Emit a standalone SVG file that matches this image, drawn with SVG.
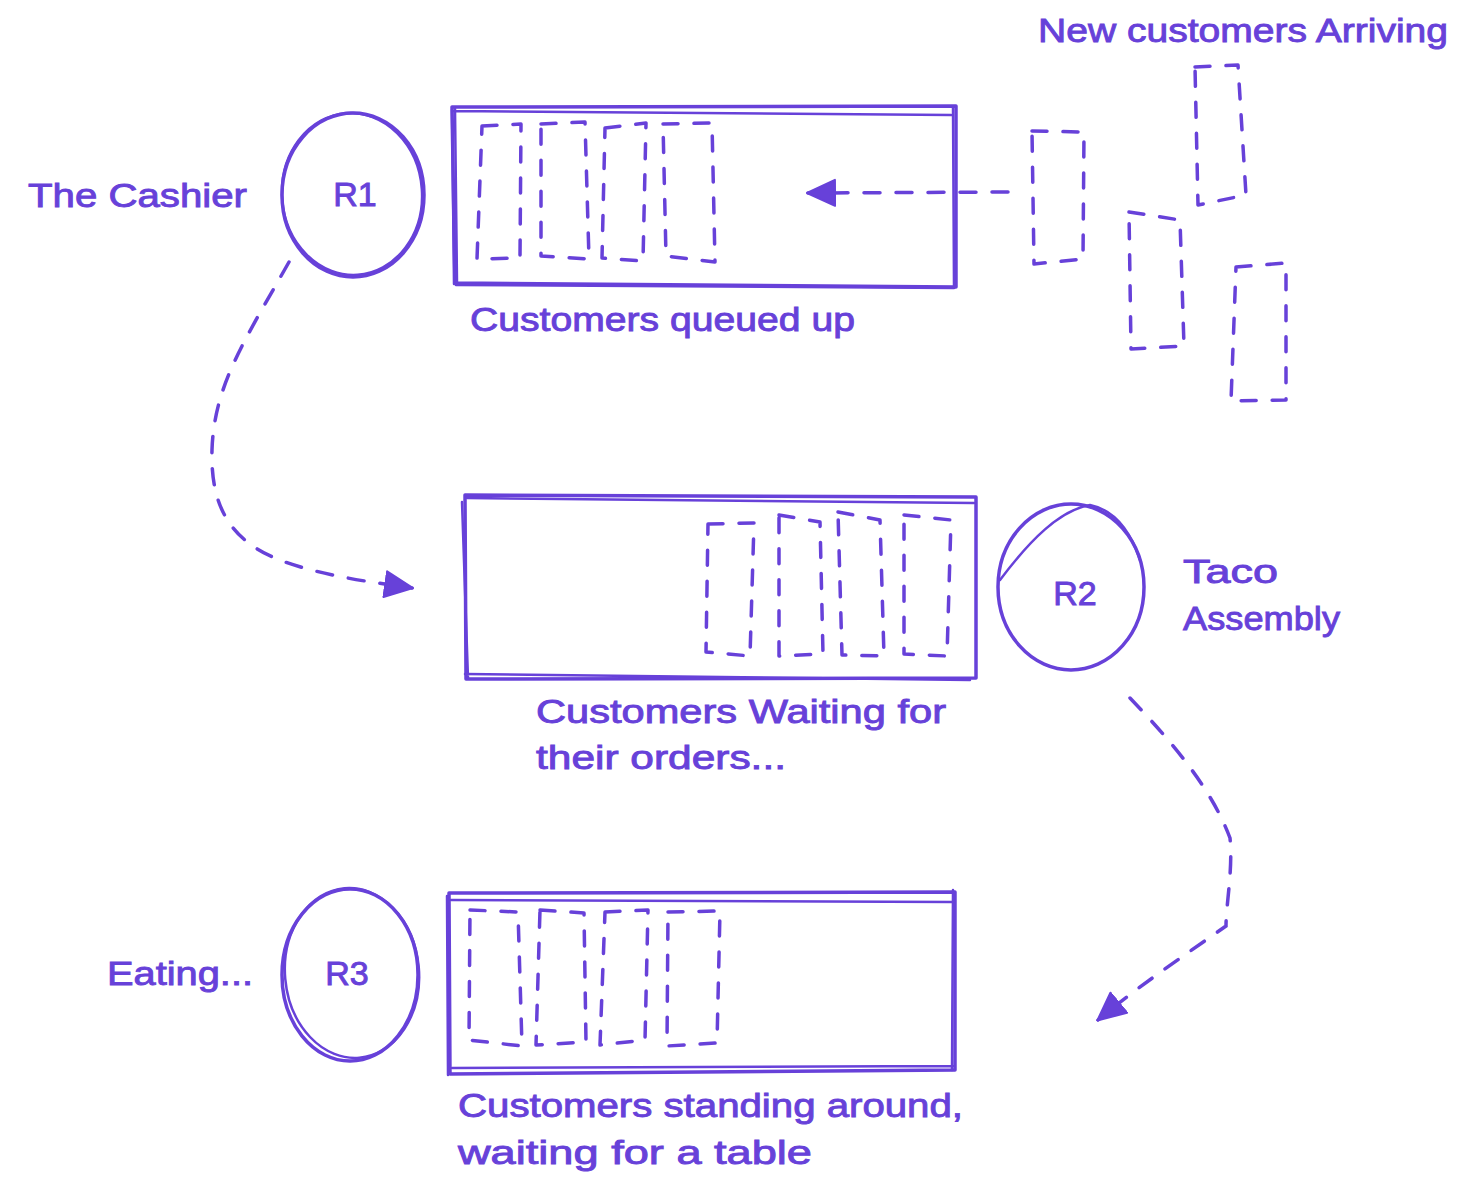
<svg xmlns="http://www.w3.org/2000/svg" width="1478" height="1198" viewBox="0 0 1478 1198">
<defs>
<style>
.s{fill:none;stroke:#6741d9;stroke-width:3.5;stroke-linecap:round;stroke-linejoin:round}
.s2{fill:none;stroke:#6741d9;stroke-width:2.5;stroke-linecap:round;stroke-linejoin:round}
.d{fill:none;stroke:#6741d9;stroke-width:3.5;stroke-linecap:round;stroke-dasharray:16 16}
.c{fill:none;stroke:#6741d9;stroke-width:3.5;stroke-linecap:round;stroke-linejoin:round;stroke-dasharray:15 16}
.t{fill:#6741d9;stroke:#6741d9;stroke-width:0.9;font-family:"Liberation Sans","DejaVu Sans",sans-serif;font-size:34px}
.r{fill:#6741d9;stroke:#6741d9;stroke-width:0.9;font-family:"Liberation Sans","DejaVu Sans",sans-serif;font-size:34px;text-anchor:middle}
</style>
<marker id="ah" viewBox="0 0 30 30" refX="28" refY="15" markerWidth="30" markerHeight="30" markerUnits="userSpaceOnUse" orient="auto">
<path d="M1,2 L29,15 L1,28 Z" fill="#6741d9" stroke="#6741d9" stroke-width="2" stroke-linejoin="round" stroke-dasharray="none"/>
</marker>
</defs>
<rect width="1478" height="1198" fill="#ffffff"/>

<g id="connectors">
<path id="arrow-r1-queue2" class="d" d="M289,262 C245,340 214,385 212,450 C210,515 238,545 285,562 C325,576 370,582 412,588" marker-end="url(#ah)"/>
<path id="arrow-r2-queue3" class="d" d="M1130,698 C1175,745 1212,790 1230,838 C1233,870 1226,905 1226,926 C1185,955 1140,985 1098,1020" marker-end="url(#ah)"/>
<path id="arrow-new-queue1" class="d" d="M1008,192 L808,193" marker-end="url(#ah)"/>
</g>

<g id="queue1">
<path class="s" d="M452,107 L956,106 L956,287 L455,283 Z"/>
<path class="s2" d="M454,111 L951,115 M455,108 L457,282 M452,110 L454,284 M953,108 L954,286 M456,285 L954,288"/>
<path class="c" d="M482,126 L521,124 L520,258 L477,259 Z"/>
<path class="c" d="M541,124 L585,122 L589,259 L541,256 Z"/>
<path class="c" d="M605,128 L646,123 L643,261 L602,258 Z"/>
<path class="c" d="M663,124 L712,123 L715,262 L666,256 Z"/>
</g>

<g id="queue2">
<path class="s" d="M465,495 L976,497 L976,678 L466,679 Z"/>
<path class="s2" d="M462,502 L468,678 M467,498 L974,503 M465,674 L970,680"/>
<path class="c" d="M708,524 L754,523 L750,656 L706,652 Z"/>
<path class="c" d="M779,515 L820,522 L823,654 L779,656 Z"/>
<path class="c" d="M838,512 L880,520 L884,656 L842,655 Z"/>
<path class="c" d="M904,515 L951,520 L947,656 L904,654 Z"/>
</g>

<g id="queue3">
<path class="s" d="M449,893 L955,892 L955,1070 L450,1074 Z"/>
<path class="s2" d="M447,896 L448,1075 M451,900 L952,902 M452,1068 L953,1066 M953,890 L952,1070"/>
<path class="c" d="M470,910 L518,912 L522,1046 L469,1040 Z"/>
<path class="c" d="M540,910 L584,913 L586,1042 L536,1045 Z"/>
<path class="c" d="M605,912 L648,910 L645,1040 L600,1045 Z"/>
<path class="c" d="M668,912 L720,911 L717,1043 L667,1046 Z"/>
</g>

<g id="arrivals">
<path class="c" d="M1032,131 L1084,132 L1083,259 L1034,264 Z"/>
<path class="c" d="M1195,67 L1238,65 L1246,195 L1198,205 Z"/>
<path class="c" d="M1129,212 L1180,220 L1184,346 L1131,349 Z"/>
<path class="c" d="M1236,267 L1286,263 L1286,400 L1231,401 Z"/>
</g>

<g id="r1">
<ellipse class="s" cx="353" cy="195" rx="71" ry="82"/>
<ellipse class="s2" cx="352" cy="194" rx="70" ry="81" transform="rotate(-4 352 194)"/>
<text class="r" x="355" y="206">R1</text>
</g>

<g id="r2">
<ellipse class="s" cx="1071" cy="587" rx="73" ry="83"/>
<path class="s2" d="M1000,580 C1030,540 1060,510 1090,505 C1115,510 1130,530 1140,560"/>
<text class="r" x="1075" y="605">R2</text>
</g>

<g id="r3">
<ellipse class="s" cx="350" cy="975" rx="68" ry="86"/>
<ellipse class="s2" cx="352" cy="973" rx="67" ry="85" transform="rotate(-5 352 973)"/>
<text class="r" x="347" y="985">R3</text>
</g>

<g id="labels">
<text class="t" x="28" y="207" textLength="219" lengthAdjust="spacingAndGlyphs">The Cashier</text>
<text class="t" x="1038" y="42" textLength="410" lengthAdjust="spacingAndGlyphs">New customers Arriving</text>
<text class="t" x="470" y="331" textLength="385" lengthAdjust="spacingAndGlyphs">Customers queued up</text>
<text class="t" x="536" y="723" textLength="410" lengthAdjust="spacingAndGlyphs">Customers Waiting for</text>
<text class="t" x="536" y="769" textLength="250" lengthAdjust="spacingAndGlyphs">their orders...</text>
<text class="t" x="1183" y="583" textLength="95" lengthAdjust="spacingAndGlyphs">Taco</text>
<text class="t" x="1183" y="630" textLength="157" lengthAdjust="spacingAndGlyphs">Assembly</text>
<text class="t" x="107" y="985" textLength="146" lengthAdjust="spacingAndGlyphs">Eating...</text>
<text class="t" x="458" y="1117" textLength="505" lengthAdjust="spacingAndGlyphs">Customers standing around,</text>
<text class="t" x="458" y="1164" textLength="354" lengthAdjust="spacingAndGlyphs">waiting for a table</text>
</g>
</svg>
